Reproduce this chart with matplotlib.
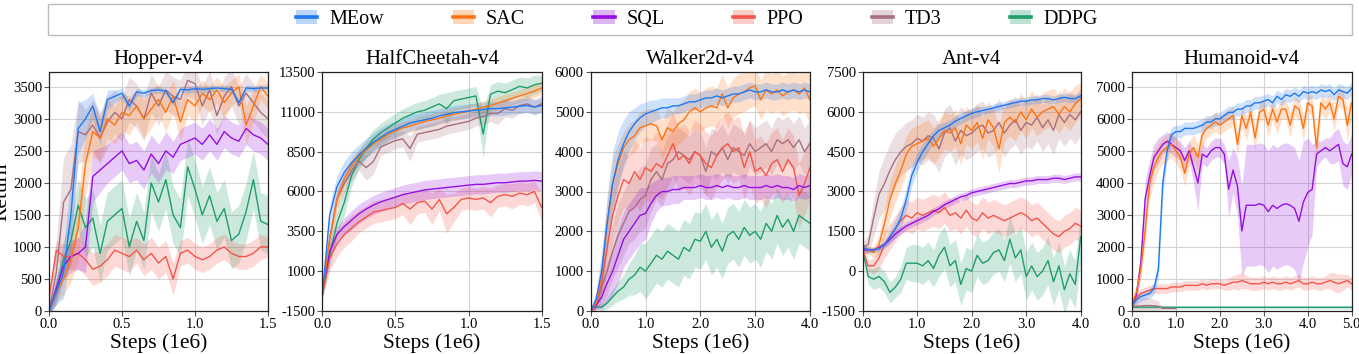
import matplotlib
matplotlib.use('Agg')
import matplotlib.pyplot as plt
import numpy as np
from matplotlib.patches import Patch, Rectangle
from matplotlib.lines import Line2D

plt.rcParams['font.family'] = 'serif'
plt.rcParams['font.serif'] = ['Liberation Serif', 'DejaVu Serif']
plt.rcParams['axes.unicode_minus'] = False

methods = ['MEow', 'SAC', 'SQL', 'PPO', 'TD3', 'DDPG']
colors = ['#1f78f2', '#ff7410', '#9510e0', '#f4564a', '#a86f7e', '#1f9d6b']

# ---------------- Hopper-v4 (0 .. 1.5e6, step 0.05) ----------------
hopper_x = np.linspace(0, 1.5, 31)
hopper_meow = [0, 300, 600, 1500, 2850, 3000, 3200, 2800, 3300, 3350, 3400, 3200, 3420, 3400, 3440, 3450,
               3430, 3250, 3460, 3450, 3470, 3460, 3470, 3480, 3470, 3460, 3250, 3480, 3470, 3480, 3480]
hopper_meow_sd = [50, 200, 400, 600, 400, 300, 200, 200, 150, 100, 80, 80, 60, 60, 50, 50,
                  50, 50, 50, 50, 50, 50, 50, 50, 50, 50, 50, 50, 50, 50, 50]
hopper_sac = [0, 300, 500, 800, 1300, 2300, 2800, 2700, 3000, 2900, 3100, 3050, 3200, 3000, 3150, 3300,
              3100, 3350, 2950, 3300, 3200, 3400, 3300, 3450, 3250, 3400, 3500, 2900, 3200, 3500, 3350]
hopper_sac_sd = [50, 150, 250, 350, 500, 500, 400, 350, 300, 300, 300, 300, 250, 300, 300, 250,
                 300, 250, 300, 250, 250, 200, 200, 200, 250, 200, 200, 300, 250, 200, 200]
hopper_sql = [0, 350, 700, 850, 900, 1000, 2100, 2200, 2300, 2400, 2500, 2300, 2350, 2200, 2450, 2300,
              2500, 2400, 2600, 2650, 2700, 2600, 2750, 2600, 2800, 2700, 2650, 2850, 2750, 2700, 2600]
hopper_sql_sd = [50, 150, 200, 250, 250, 400, 400, 350, 300, 300, 300, 300, 300, 300, 300, 300,
                 300, 250, 250, 250, 250, 250, 250, 250, 250, 250, 250, 250, 250, 250, 250]
hopper_ppo = [200, 950, 850, 850, 900, 800, 650, 700, 800, 950, 900, 850, 950, 800, 900, 750,
              850, 500, 900, 950, 850, 800, 850, 950, 1000, 900, 850, 850, 900, 1000, 1000]
hopper_ppo_sd = [100, 150, 200, 200, 250, 250, 250, 250, 250, 250, 250, 250, 200, 250, 250, 250,
                 250, 250, 200, 200, 200, 200, 200, 200, 200, 200, 200, 200, 200, 200, 150]
hopper_td3 = [0, 600, 1700, 1900, 2800, 2750, 2900, 2700, 2950, 3100, 3000, 3300, 3200, 3000, 3400, 3200,
              3450, 3350, 3300, 3600, 3550, 3200, 3450, 3050, 3350, 3500, 3200, 3400, 3250, 3100, 3000]
hopper_td3_sd = [100, 500, 700, 700, 500, 400, 400, 400, 400, 350, 350, 350, 350, 350, 300, 300,
                 300, 300, 300, 250, 250, 300, 300, 300, 300, 300, 300, 300, 300, 300, 300]
hopper_ddpg = [0, 300, 800, 1100, 1650, 1300, 1450, 900, 1400, 1500, 1600, 1000, 1400, 1100, 2000, 1700,
               2050, 1500, 1300, 2250, 1900, 1500, 1800, 1400, 1600, 1100, 1200, 1550, 2050, 1400, 1350]
hopper_ddpg_sd = [50, 200, 300, 400, 400, 450, 450, 450, 450, 450, 450, 450, 450, 450, 450, 450,
                  450, 450, 450, 450, 450, 450, 450, 450, 450, 450, 450, 450, 450, 450, 450]

# ---------------- HalfCheetah-v4 (0 .. 1.5e6, step 0.05) ----------------
hc_x = np.linspace(0, 1.5, 31)
hc_meow = [-500, 4500, 6300, 7200, 7800, 8300, 8700, 9100, 9400, 9700, 9900, 10100, 10300, 10400, 10500, 10600,
           10750, 10850, 10950, 11000, 11050, 11100, 11150, 11200, 11200, 11250, 11300, 11350, 11400, 11300, 11400]
hc_meow_sd = [200, 700, 700, 700, 700, 650, 600, 600, 600, 550, 550, 500, 500, 500, 500, 500,
              450, 450, 450, 450, 450, 450, 450, 450, 450, 450, 450, 450, 450, 450, 450]
hc_sac = [-500, 3000, 5500, 6800, 7600, 8200, 8600, 9000, 9300, 9600, 9800, 10000, 10100, 10250, 10400, 10500,
          10600, 10750, 10850, 10950, 11050, 11150, 11300, 11400, 11550, 11700, 11850, 12000, 12150, 12300, 12500]
hc_sac_sd = [200, 600, 600, 500, 500, 450, 450, 400, 400, 400, 400, 400, 400, 400, 400, 400,
             400, 400, 400, 400, 400, 400, 400, 400, 400, 400, 400, 400, 400, 400, 400]
hc_sql = [-300, 2200, 3300, 3800, 4200, 4600, 4900, 5150, 5350, 5500, 5650, 5800, 5900, 6000, 6100, 6150,
          6200, 6250, 6300, 6350, 6400, 6450, 6450, 6500, 6550, 6550, 6600, 6650, 6650, 6700, 6650]
hc_sql_sd = [200, 500, 500, 550, 600, 600, 600, 600, 600, 600, 600, 600, 600, 600, 600, 600,
             600, 600, 600, 600, 600, 600, 600, 600, 600, 600, 600, 600, 600, 600, 600]
hc_ppo = [-500, 1800, 2700, 3300, 3700, 4100, 4400, 4700, 4800, 4900, 5000, 5250, 4900, 5300, 5400, 4900,
          5500, 4600, 5000, 5500, 5600, 5500, 5600, 5300, 5700, 5800, 5700, 5900, 5800, 6000, 5000]
hc_ppo_sd = [200, 800, 800, 800, 800, 700, 700, 700, 700, 700, 700, 700, 1000, 700, 700, 1000,
             700, 1200, 900, 700, 700, 700, 700, 900, 700, 700, 800, 700, 700, 700, 900]
hc_td3 = [-500, 3000, 5500, 6500, 7300, 7900, 7500, 7900, 8800, 9000, 9200, 9300, 8700, 9600, 9700, 9800,
          9900, 10100, 10200, 10300, 10400, 10600, 10700, 10900, 10900, 11200, 11100, 11400, 11500, 11300, 11500]
hc_td3_sd = [200, 600, 600, 600, 600, 550, 800, 800, 550, 550, 500, 500, 800, 500, 500, 500,
             500, 500, 500, 500, 500, 500, 500, 500, 700, 500, 500, 500, 500, 500, 500]
hc_ddpg = [-500, 2000, 4000, 5300, 7000, 8000, 8700, 9300, 9700, 10000, 10300, 10600, 10800, 11000, 11100, 11300,
           11500, 11200, 11700, 11800, 11900, 12000, 9600, 12100, 12300, 12200, 12400, 12600, 12500, 12700, 12800]
hc_ddpg_sd = [200, 800, 800, 800, 700, 600, 600, 600, 600, 600, 600, 600, 600, 600, 600, 600,
              600, 1000, 600, 600, 600, 600, 1500, 600, 600, 600, 600, 600, 600, 600, 500]

# ---------------- Walker2d-v4 (0 .. 4.0e6, step 0.1) ----------------
wk_x = np.linspace(0, 4.0, 41)
wk_meow = [0, 300, 1000, 2200, 3200, 3800, 4200, 4500, 4700, 4850, 4950, 5000, 5050, 5100, 5100, 5150, 5150, 5200,
           5250, 5250, 5300, 5350, 5350, 5400, 5350, 5400, 5450, 5450, 5500, 5550, 5500, 5500, 5550, 5500, 5500,
           5550, 5500, 5550, 5500, 5550, 5500]
wk_meow_sd = [50, 200, 500, 700, 800, 700, 600, 500, 400, 350, 300, 300, 250, 250, 250, 200, 200, 200,
              200, 200, 200, 200, 200, 200, 200, 200, 200, 200, 200, 200, 200, 200, 200, 200, 200,
              200, 200, 200, 200, 200, 200]
wk_sac = [0, 200, 900, 2200, 3200, 3700, 4100, 4300, 4400, 4600, 4650, 4700, 4650, 4300, 4600, 4500, 4700, 4800,
          5000, 5100, 5000, 5100, 5150, 5100, 5450, 5100, 5350, 5450, 5500, 5600, 5650, 5300, 5550, 5450, 5550,
          5400, 5500, 5550, 5450, 5600, 5300]
wk_sac_sd = [50, 150, 400, 600, 600, 500, 400, 400, 400, 400, 400, 400, 400, 500, 500, 500, 500, 500,
             500, 500, 500, 500, 500, 500, 500, 500, 500, 500, 500, 500, 500, 500, 500, 500, 500,
             500, 500, 500, 500, 600, 600]
wk_sql = [0, 150, 350, 700, 1000, 1400, 1800, 2000, 2200, 2400, 2450, 2700, 2900, 3000, 3000, 3050, 3050, 3100,
          3100, 3100, 3150, 3100, 3100, 3150, 3100, 3150, 3100, 3100, 3150, 3100, 3100, 3100, 3150, 3100, 3150,
          3100, 3100, 3050, 3150, 3100, 3150]
wk_sql_sd = [50, 100, 300, 500, 600, 700, 700, 700, 700, 700, 650, 500, 400, 350, 350, 350, 350, 300,
             300, 300, 300, 300, 300, 300, 300, 300, 300, 300, 300, 300, 300, 300, 300, 300, 300,
             300, 300, 300, 300, 300, 300]
wk_ppo = [0, 200, 700, 1600, 2400, 2900, 3300, 3200, 3500, 3300, 3600, 3500, 3700, 3600, 3900, 4200, 3800, 3900,
          3700, 4000, 3900, 3700, 3600, 3900, 4100, 4200, 4000, 4100, 3600, 4000, 3500, 3600, 3400, 3700, 3800,
          3500, 3800, 3600, 2900, 3200, 3600]
wk_ppo_sd = [50, 150, 400, 600, 700, 700, 700, 700, 800, 800, 800, 800, 800, 800, 800, 800, 800, 800,
             800, 800, 800, 800, 800, 800, 800, 800, 800, 800, 800, 800, 800, 800, 800, 800, 800,
             800, 800, 800, 800, 800, 800]
wk_td3 = [0, 150, 600, 1000, 1500, 1900, 2200, 2500, 2600, 2800, 2900, 3300, 3500, 3300, 3700, 3800, 4000, 3900,
          3800, 4000, 3900, 3500, 4000, 3900, 4100, 3800, 4100, 4000, 3900, 4200, 4000, 4100, 4200, 4000, 4300,
          4200, 4300, 4100, 4300, 4000, 4200]
wk_td3_sd = [50, 150, 400, 600, 700, 800, 800, 800, 800, 800, 800, 800, 700, 700, 700, 700, 600, 600,
             600, 600, 600, 600, 600, 600, 600, 600, 600, 600, 600, 600, 600, 600, 600, 600, 600,
             600, 600, 600, 600, 600, 600]
wk_ddpg = [100, 100, 100, 200, 350, 500, 600, 800, 900, 1100, 1000, 1200, 1400, 1300, 1500, 1400, 1300, 1600,
           1500, 1800, 1750, 2000, 1600, 1800, 1500, 1900, 2000, 1800, 2100, 1900, 2000, 1800, 2200, 2000, 2400,
           2100, 2300, 2000, 2400, 2300, 2200]
wk_ddpg_sd = [50, 50, 100, 150, 200, 250, 300, 400, 500, 600, 700, 700, 700, 700, 700, 700, 700, 700,
              700, 700, 700, 700, 700, 700, 700, 700, 700, 700, 700, 700, 700, 700, 700, 700, 700,
              700, 700, 700, 700, 700, 700]

# ---------------- Ant-v4 (0 .. 4.0e6, step 0.1) ----------------
ant_x = np.linspace(0, 4.0, 41)
ant_meow = [900, 800, 800, 850, 1000, 1300, 1600, 2000, 2700, 3600, 4100, 4500, 4800, 5100, 5300, 5400, 5500,
            5650, 5750, 5850, 5950, 6000, 6050, 6100, 6150, 6200, 6250, 6300, 6350, 6400, 6400, 6450, 6450, 6500,
            6500, 6450, 6500, 6550, 6500, 6500, 6600]
ant_meow_sd = [150, 100, 100, 100, 150, 250, 350, 400, 450, 400, 350, 300, 300, 250, 250, 200, 200,
               200, 200, 200, 200, 200, 150, 150, 150, 150, 150, 150, 150, 150, 150, 150, 150, 150,
               150, 150, 150, 150, 150, 150, 150]
ant_sac = [900, 800, 700, 1000, 1800, 2700, 3300, 3800, 4400, 4700, 4800, 4900, 5000, 4700, 5000, 5300, 5200,
           5400, 4800, 5500, 5300, 5600, 5000, 5700, 5400, 4600, 5600, 5800, 5600, 6000, 5700, 6100, 5800, 6000,
           6100, 6200, 5900, 6200, 6000, 6300, 6500]
ant_sac_sd = [150, 150, 200, 400, 600, 700, 700, 700, 700, 700, 700, 700, 700, 700, 700, 700, 700,
              700, 800, 700, 700, 700, 800, 700, 700, 900, 700, 700, 700, 700, 700, 700, 700, 700,
              700, 700, 700, 700, 700, 700, 600]
ant_sql = [800, 800, 800, 900, 1000, 1200, 1400, 1550, 1700, 1800, 1900, 2000, 2100, 2250, 2350, 2500, 2600,
           2700, 2800, 2850, 2950, 3000, 3050, 3100, 3150, 3200, 3250, 3300, 3300, 3350, 3400, 3400, 3450, 3450,
           3450, 3500, 3500, 3450, 3500, 3550, 3550]
ant_sql_sd = [150, 100, 100, 100, 100, 150, 150, 150, 150, 150, 150, 150, 150, 150, 150, 150, 150,
              150, 150, 150, 150, 150, 150, 150, 150, 150, 150, 150, 150, 150, 150, 150, 150, 150,
              150, 150, 150, 150, 150, 150, 150]
ant_ppo = [800, 200, 200, 500, 1000, 1300, 1600, 1900, 2100, 2000, 2200, 2100, 2200, 2300, 2200, 2400, 2100,
           2200, 2000, 2300, 2000, 1900, 2200, 2000, 2100, 2000, 1900, 2000, 2100, 2200, 2100, 1900, 2000, 1800,
           1600, 1400, 1300, 1500, 1600, 1800, 1700]
ant_ppo_sd = [150, 200, 300, 400, 500, 500, 500, 500, 600, 600, 600, 600, 600, 600, 600, 600, 600,
              600, 600, 600, 600, 600, 600, 600, 600, 600, 600, 600, 600, 600, 600, 600, 600, 600,
              600, 600, 600, 600, 600, 600, 600]
ant_td3 = [900, 1000, 2000, 2900, 3300, 3800, 4200, 4500, 4700, 4800, 5000, 4900, 5100, 5000, 4600, 5200, 5400,
           4900, 5300, 5100, 5200, 5400, 5500, 5200, 5300, 5600, 5200, 5500, 5700, 5300, 5600, 5500, 5800, 5400,
           5700, 5300, 5900, 5600, 5900, 5700, 6000]
ant_td3_sd = [150, 400, 700, 900, 1000, 1000, 1000, 900, 900, 900, 900, 900, 900, 900, 900, 900, 900,
              900, 900, 900, 900, 900, 900, 900, 900, 900, 900, 900, 900, 900, 900, 900, 900, 900,
              900, 900, 900, 900, 900, 900, 900]
ant_ddpg = [800, -200, -300, -200, -400, -800, -600, -300, 300, 300, 300, 200, 400, 100, 600, 900, 200,
            400, -500, 100, 0, 600, 300, 400, 700, 800, 400, 1200, 500, 800, -200, 200, -200, 0,
            400, -400, 200, -700, -100, -500, 1300]
ant_ddpg_sd = [150, 300, 400, 400, 400, 400, 400, 500, 600, 700, 700, 700, 700, 700, 800, 800, 800,
               800, 800, 800, 800, 800, 800, 800, 800, 800, 800, 900, 900, 900, 900, 900, 900, 900,
               900, 900, 900, 900, 900, 900, 900]

# ---------------- Humanoid-v4 (0 .. 5.0e6, step 0.1) ----------------
hu_x = np.linspace(0, 5.0, 51)
hu_meow = [200, 350, 450, 500, 550, 700, 1300, 4000, 5000, 5500, 5600, 5600, 5700, 5700, 5700, 5750, 5800,
           5900, 5900, 6000, 6000, 6100, 6200, 6200, 6300, 6300, 6400, 6400, 6500, 6500, 6550, 6600, 6500,
           6700, 6600, 6750, 6700, 6800, 6700, 6850, 6800, 6850, 6800, 6900, 6850, 6900, 6750, 6900, 6850,
           6800, 6950]
hu_meow_sd = [100, 150, 150, 150, 150, 200, 300, 400, 300, 250, 200, 200, 200, 200, 200, 200, 200,
              200, 200, 200, 200, 200, 200, 200, 200, 200, 200, 200, 200, 200, 200, 200, 200,
              200, 200, 200, 200, 200, 200, 200, 200, 200, 200, 200, 200, 200, 200, 200, 200,
              200, 200]
hu_sac = [200, 600, 1300, 2500, 4000, 4500, 4800, 5000, 5100, 5200, 5000, 4800, 4300, 4900, 5100, 4800, 5500,
          5700, 5800, 5900, 5800, 5900, 6000, 6100, 5200, 6100, 5700, 6200, 5400, 6200, 6300, 5800, 6300,
          5900, 6300, 6300, 5800, 6400, 6300, 5700, 6500, 6400, 5100, 6500, 6300, 6500, 6000, 6700, 6600,
          5800, 6500]
hu_sac_sd = [100, 200, 300, 400, 500, 500, 400, 400, 400, 400, 400, 400, 400, 400, 400, 400, 400,
             300, 300, 300, 300, 300, 300, 300, 400, 300, 400, 300, 400, 300, 300, 400, 300,
             400, 300, 300, 400, 300, 300, 400, 300, 300, 500, 300, 300, 300, 400, 300, 300,
             500, 400]
hu_sql = [200, 500, 1500, 3500, 4200, 4800, 5000, 5200, 5300, 5200, 5100, 5000, 4700, 5000, 4500, 4000, 4900,
          4800, 5000, 5100, 5100, 4900, 3800, 4400, 3900, 2500, 3300, 3300, 3300, 3350, 3300, 3100, 3300,
          3200, 3300, 3350, 3300, 3200, 2800, 3400, 3700, 3800, 4900, 5000, 5100, 5000, 5100, 5200, 4600,
          4500, 4900]
hu_sql_sd = [100, 200, 400, 600, 500, 400, 400, 300, 300, 300, 300, 300, 400, 300, 500, 900, 300,
             300, 300, 300, 300, 300, 900, 700, 900, 1400, 1900, 1900, 1900, 1900, 1900, 1900, 1900,
             1900, 1900, 1900, 1900, 1900, 1900, 1900, 1700, 1400, 400, 300, 300, 400, 500, 500, 700,
             700, 600]
hu_ppo = [200, 400, 550, 600, 650, 700, 700, 700, 700, 750, 750, 750, 800, 800, 800, 800, 850,
          800, 850, 850, 850, 800, 850, 900, 900, 950, 900, 850, 850, 850, 900, 850, 900,
          850, 850, 900, 850, 900, 950, 850, 850, 900, 850, 850, 900, 950, 900, 850, 900,
          950, 850]
hu_ppo_sd = [50, 100, 150, 150, 150, 150, 150, 150, 150, 150, 150, 150, 150, 150, 150, 150, 150,
             150, 150, 150, 150, 150, 200, 200, 250, 250, 200, 200, 200, 200, 200, 200, 200,
             200, 200, 200, 200, 200, 200, 200, 200, 200, 200, 200, 200, 250, 300, 300, 250,
             200, 200]
hu_td3_x = np.linspace(0, 1.0, 11)
hu_td3 = [150, 150, 160, 170, 170, 160, 150, 80, 80, 80, 80]
hu_td3_sd = [100, 150, 250, 250, 250, 200, 150, 20, 20, 20, 20]
hu_ddpg = [120, 120, 120, 120, 120, 120, 120, 115, 115, 115, 115, 115, 115, 115, 115, 115, 115,
           115, 115, 115, 115, 115, 115, 115, 115, 115, 115, 115, 115, 115, 115, 115, 115,
           115, 115, 115, 115, 115, 115, 115, 115, 115, 115, 115, 115, 115, 115, 115, 115,
           115, 115]
hu_ddpg_sd = [50, 50, 50, 50, 50, 50, 50, 50, 50, 50, 50, 50, 50, 50, 50, 50, 50,
              50, 50, 50, 50, 50, 50, 50, 50, 50, 50, 50, 50, 50, 50, 50, 50,
              50, 50, 50, 50, 50, 50, 50, 50, 50, 50, 50, 50, 50, 50, 50, 50,
              50, 50]

panels = [
    ('Hopper-v4', [(hopper_x, hopper_meow, hopper_meow_sd), (hopper_x, hopper_sac, hopper_sac_sd),
                   (hopper_x, hopper_sql, hopper_sql_sd), (hopper_x, hopper_ppo, hopper_ppo_sd),
                   (hopper_x, hopper_td3, hopper_td3_sd), (hopper_x, hopper_ddpg, hopper_ddpg_sd)],
     (0, 1.5), [0, 0.5, 1.0, 1.5], (0, 3730), np.arange(0, 3501, 500)),
    ('HalfCheetah-v4', [(hc_x, hc_meow, hc_meow_sd), (hc_x, hc_sac, hc_sac_sd),
                        (hc_x, hc_sql, hc_sql_sd), (hc_x, hc_ppo, hc_ppo_sd),
                        (hc_x, hc_td3, hc_td3_sd), (hc_x, hc_ddpg, hc_ddpg_sd)],
     (0, 1.5), [0, 0.5, 1.0, 1.5], (-1500, 13500), np.arange(-1500, 13501, 2500)),
    ('Walker2d-v4', [(wk_x, wk_meow, wk_meow_sd), (wk_x, wk_sac, wk_sac_sd),
                     (wk_x, wk_sql, wk_sql_sd), (wk_x, wk_ppo, wk_ppo_sd),
                     (wk_x, wk_td3, wk_td3_sd), (wk_x, wk_ddpg, wk_ddpg_sd)],
     (0, 4.0), [0, 1, 2, 3, 4], (0, 6000), np.arange(0, 6001, 1000)),
    ('Ant-v4', [(ant_x, ant_meow, ant_meow_sd), (ant_x, ant_sac, ant_sac_sd),
                (ant_x, ant_sql, ant_sql_sd), (ant_x, ant_ppo, ant_ppo_sd),
                (ant_x, ant_td3, ant_td3_sd), (ant_x, ant_ddpg, ant_ddpg_sd)],
     (0, 4.0), [0, 1, 2, 3, 4], (-1500, 7500), np.arange(-1500, 7501, 1500)),
    ('Humanoid-v4', [(hu_x, hu_meow, hu_meow_sd), (hu_x, hu_sac, hu_sac_sd),
                     (hu_x, hu_sql, hu_sql_sd), (hu_x, hu_ppo, hu_ppo_sd),
                     (hu_td3_x, hu_td3, hu_td3_sd), (hu_x, hu_ddpg, hu_ddpg_sd)],
     (0, 5.0), [0, 1, 2, 3, 4, 5], (0, 7460), np.arange(0, 7001, 1000)),
]

W, H = 1359, 354
fig = plt.figure(figsize=(W / 100, H / 100), dpi=100)
lefts = [49, 322.3, 590.7, 862.7, 1132]
rights = [268, 541.7, 810, 1080.7, 1351.7]

for i, (title, series, xlim, xticks, ylim, yticks) in enumerate(panels):
    ax = fig.add_axes([lefts[i] / W, 1 - 311 / H, (rights[i] - lefts[i]) / W, 239 / H])
    for j in reversed(range(len(series))):
        x, m, sd = series[j]
        m = np.array(m, dtype=float)
        sd = np.array(sd, dtype=float)
        ax.fill_between(x, m - sd, m + sd, color=colors[j], alpha=0.22, lw=0)
        ax.plot(x, m, color=colors[j], lw=1.0)
    ax.set_xlim(*xlim)
    ax.set_ylim(*ylim)
    ax.set_xticks(xticks)
    ax.set_xticklabels(['%.1f' % t for t in xticks])
    ax.set_yticks(yticks)
    ax.set_yticklabels(['%d' % t for t in yticks])
    ax.grid(True, color='#d4d4d4', lw=0.8)
    ax.set_axisbelow(True)
    for s in ax.spines.values():
        s.set_color('#222222')
        s.set_linewidth(0.9)
    ax.tick_params(labelsize=10.5, length=3.5, width=0.8, color='#555555', pad=1.5)
    ax.set_title(title, fontsize=15)
    ax.set_xlabel('Steps (1e6)', fontsize=15.5, labelpad=2)

fig.text(11.5 / W, 1 - 191.5 / H, 'Return', rotation=90,
         ha='right', va='center', fontsize=15.5)

# legend frame
fig.patches.append(Rectangle((48.3 / W, 1 - 35 / H), (1351.7 - 48.3) / W, 30.7 / H,
                             transform=fig.transFigure, facecolor='white',
                             edgecolor='#bdbdbd', lw=1.0))
handles = [(Patch(facecolor=c, alpha=0.3, edgecolor='none'), Line2D([], [], color=c, lw=2.6))
           for c in colors]
fig.legend(handles, methods, loc='center', bbox_to_anchor=(697 / W, 1 - 19.7 / H), ncol=6,
           frameon=False, fontsize=14.5, handlelength=1.05, handleheight=0.7,
           handletextpad=0.6, columnspacing=3.4, borderpad=0.2)

fig.savefig('out.png', dpi=100)
